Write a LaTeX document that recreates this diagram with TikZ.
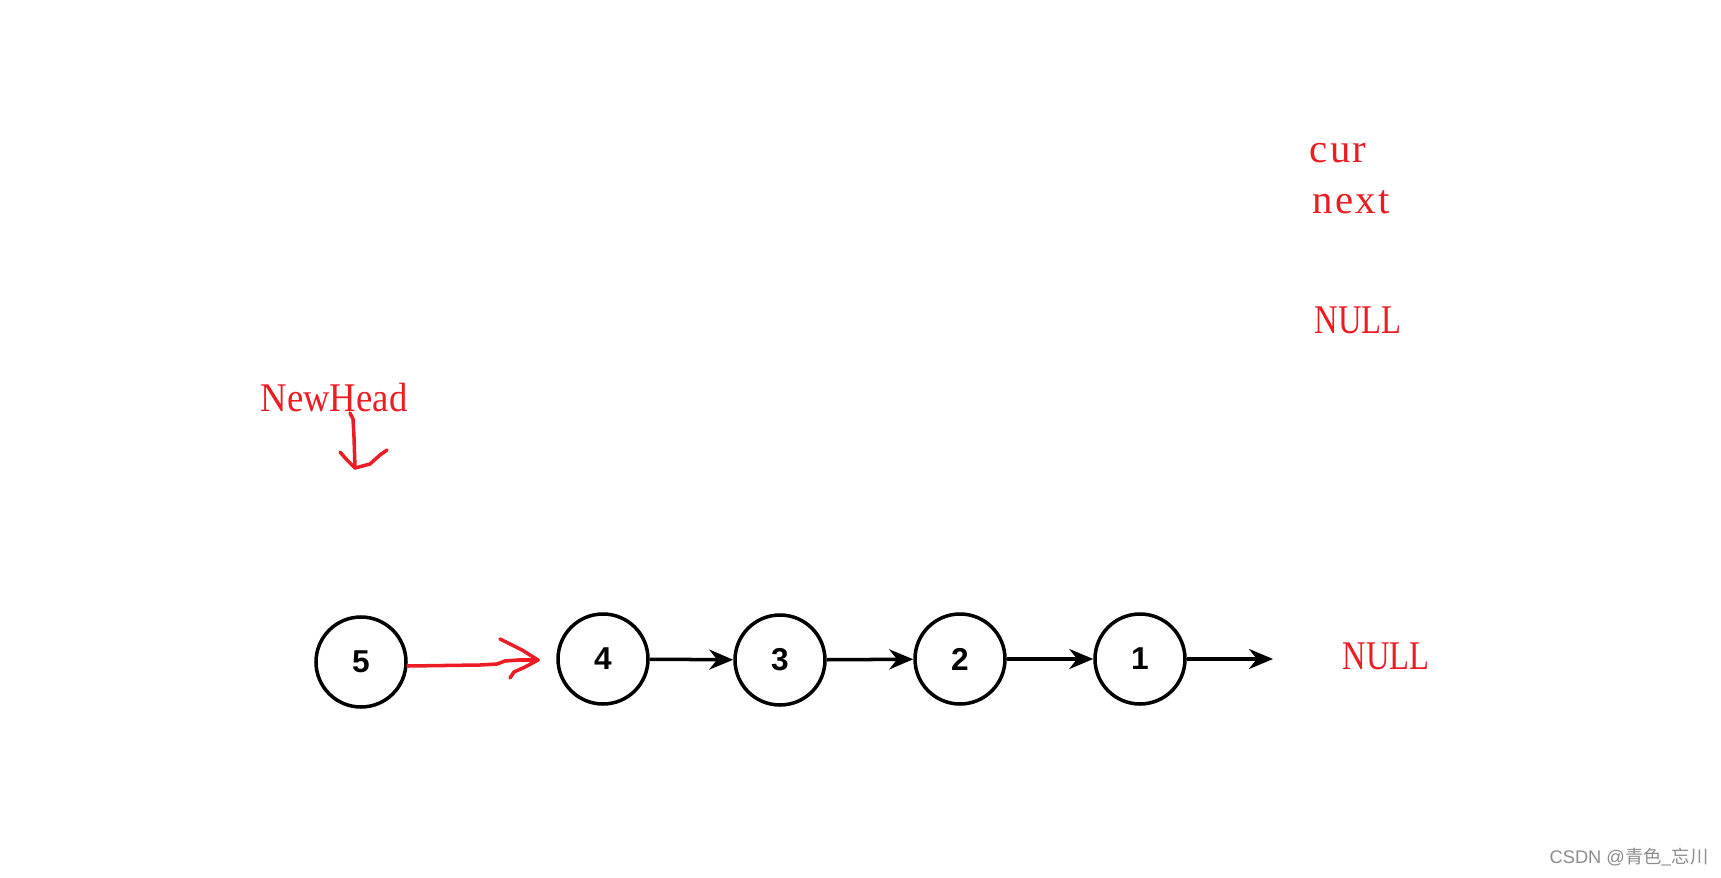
\documentclass[tikz,border=0pt]{standalone}
\usepackage{fontspec}
\usepackage{xcolor}
\usepackage{tikz}
\usetikzlibrary{arrows.meta}
\usetikzlibrary{positioning}
\setsansfont{Liberation Sans}
\newfontfamily\redfont[FakeStretch=0.8]{Liberation Serif}
\newfontfamily\redwide[LetterSpace=6]{Liberation Serif}
\newfontfamily\redhead[FakeStretch=0.9]{Liberation Serif}
\newfontfamily\cjkfont{Noto Sans CJK SC}
\definecolor{penred}{RGB}{237,28,36}
\tikzset{
  ListNode/.style={
    circle, minimum size=9mm, inner sep=0pt,
    line width=1pt, draw=black,
    font=\sffamily\bfseries\fontsize{9}{9}\selectfont,
  },
  RedLabel/.style={
    text=penred, inner sep=0pt,
    font=\redfont\fontsize{11.6}{12}\selectfont,
  },
  NextArrow/.style={-{Stealth[length=2.4mm,width=2mm]}, line width=1pt},
  HandLine/.style={draw=penred, line width=1pt, line cap=round, line join=round},
}

\begin{document}
\begin{tikzpicture}
\useasboundingbox (0,0) rectangle (17.21,8.77);
\node[ListNode] (N5) at (3.61,2.15) {5};
\node[ListNode] (N4) at (6.03,2.18) {4};
\node[ListNode] (N3) at (7.80,2.17) {3};
\node[ListNode] (N2) at (9.60,2.18) {2};
\node[ListNode] (N1) at (11.40,2.18) {1};
\coordinate (TAIL) at (12.73,2.18);
\node[RedLabel] (NULLR) at (13.86,2.21) {NULL};
\node[RedLabel, font=\redwide\fontsize{11.6}{12}\selectfont] (CUR) at (13.38,7.24) {cur};
\node[RedLabel, font=\redwide\fontsize{11.6}{12}\selectfont] (NEXT) at (13.51,6.75) {next};
\node[RedLabel] (NULLT) at (13.58,5.57) {NULL};
\node[RedLabel, font=\redhead\fontsize{11.6}{12}\selectfont] (NEWHEAD) at (3.34,4.79) {NewHead};
\node[text=black!45, inner sep=0pt, font=\sffamily\fontsize{5.2}{5.2}\selectfont] (MARK) at (16.29,0.20) {CSDN @{\cjkfont 青色\_忘川}};
\draw[NextArrow] (N4) to (N3);
\draw[NextArrow] (N3) to (N2);
\draw[NextArrow] (N2) to (N1);
\draw[NextArrow] (N1) to (TAIL);
% hand drawn arrows
\coordinate (TIP4) at (5.38,2.17);
\draw[HandLine] (N5.east |- 0,2.11) -- (4.80,2.12) -- (4.97,2.13) -- (5.05,2.16) -- (5.18,2.17) -- (TIP4);
\draw[HandLine] (5.00,2.38) -- (5.10,2.33) -- (5.22,2.27) -- (TIP4) -- (5.25,2.10) -- (5.14,2.05) -- (5.10,1.99);
\coordinate (TIPH) at (3.55,4.09);
\draw[HandLine] (NEWHEAD.south -| 3.50,0) -- (3.53,4.58) -- (3.54,4.40) -- (TIPH);
\draw[HandLine] (3.40,4.25) -- (3.47,4.17) -- (TIPH) -- (3.70,4.13) -- (3.80,4.22) -- (3.87,4.27);
\end{tikzpicture}
\end{document}
